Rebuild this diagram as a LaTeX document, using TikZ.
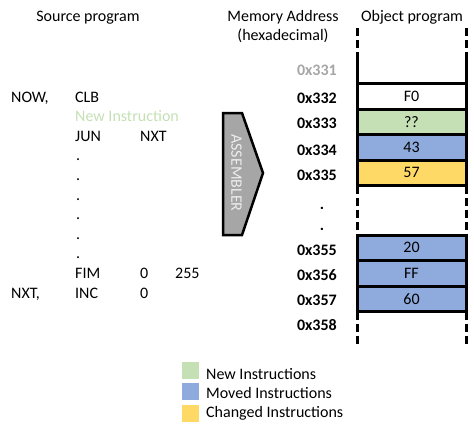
\documentclass[tikz,border=0pt]{standalone}
\usepackage{fontspec}
\setmainfont{Carlito}
\definecolor{newgreen}{HTML}{C5E0B4}
\definecolor{movedblue}{HTML}{8FAADC}
\definecolor{changedyellow}{HTML}{FFD966}
\definecolor{asmgray}{HTML}{A6A6A6}
\definecolor{addrgray}{HTML}{A6A6A6}
\definecolor{asmtext}{HTML}{EDEDED}
\begin{document}
\begin{tikzpicture}[x=1pt,y=-1pt,
  font=\fontsize{16}{19}\selectfont,
  txt/.style={inner sep=0pt, anchor=base west},
  ctxt/.style={inner sep=0pt, anchor=base},
  addr/.style={inner sep=0pt, anchor=base east, font=\fontsize{16}{19}\selectfont\bfseries},
  cell/.style={draw=black, line width=3pt, minimum width=109pt, minimum height=25.5pt, inner sep=0pt, outer sep=0pt, anchor=north west},
  rail/.style={line width=3pt},
  dashrail/.style={line width=3pt, dash pattern=on 8pt off 4pt},
  legsq/.style={minimum width=17pt, minimum height=17pt, inner sep=0pt, outer sep=0pt, anchor=north west}]
\useasboundingbox (0,0) rectangle (474,434);

% headers
\node[ctxt] (hsrc) at (88,21) {Source program};
\node[ctxt] (hmem) at (283,21) {Memory Address};
\node[ctxt] (hhex) at (283,40) {(hexadecimal)};
\node[ctxt] (hobj) at (412,21) {Object program};

% source program
\node[txt] (now) at (11,102) {NOW,};
\node[txt] (clb) at (75,102) {CLB};
\node[txt, text=newgreen] (newi) at (75,121.6) {New Instruction};
\node[txt] (jun) at (75,141.2) {JUN};
\node[txt] (junarg) at (140,141.2) {NXT};
\node[txt] (d1) at (76,160.8) {.};
\node[txt] (d2) at (76,180.4) {.};
\node[txt] (d3) at (76,200) {.};
\node[txt] (d4) at (76,219.6) {.};
\node[txt] (d5) at (76,239.2) {.};
\node[txt] (d6) at (76,258.8) {.};
\node[txt] (fim) at (75,278.4) {FIM};
\node[txt] (fima) at (140,278.4) {0};
\node[txt] (fimb) at (175,278.4) {255};
\node[txt] (nxt) at (11,298) {NXT,};
\node[txt] (inc) at (75,298) {INC};
\node[txt] (inca) at (140,298) {0};

% assembler arrow
\draw[line width=2.5pt, fill=asmgray, line join=miter] (223,113) -- (242,113) -- (263,173) -- (242,235) -- (223,235) -- cycle;
\node[rotate=-90, text=asmtext, inner sep=0pt] (asm) at (236.5,173) {ASSEMBLER};

% addresses
\node[addr, text=addrgray] (a331) at (337,75) {0x331};
\node[addr] (a332) at (337,103) {0x332};
\node[addr] (a333) at (337,128) {0x333};
\node[addr] (a334) at (337,155) {0x334};
\node[addr] (a335) at (337,180) {0x335};
\node[ctxt, font=\fontsize{16}{19}\selectfont\bfseries] (ad1) at (322,209) {.};
\node[ctxt, font=\fontsize{16}{19}\selectfont\bfseries] (ad2) at (322,230) {.};
\node[addr] (a355) at (337,255) {0x355};
\node[addr] (a356) at (337,280.5) {0x356};
\node[addr] (a357) at (337,305) {0x357};
\node[addr] (a358) at (337,330) {0x358};

% object program rails
\coordinate (tl0) at (357,28);
\coordinate (tl1) at (357,55);
\coordinate (tr0) at (466,28);
\coordinate (tr1) at (466,55);
\coordinate (bl) at (357,345);
\coordinate (br) at (466,345);

% cells
\node[cell, fill=white] (c1) at (357,83.5) {F0};
\node[cell, fill=newgreen] (c2) at (357,109) {??};
\node[cell, fill=movedblue] (c3) at (357,134.5) {43};
\node[cell, fill=changedyellow] (c4) at (357,160) {57};
\node[cell, fill=movedblue] (c5) at (357,235) {20};
\node[cell, fill=movedblue] (c6) at (357,260.5) {FF};
\node[cell, fill=movedblue] (c7) at (357,286) {60};

\draw[dashrail] (tl0) -- (tl1);
\draw[dashrail] (tr0) -- (tr1);
\draw[rail, line join=miter] (tl1) -- (c1.north west) -- (c1.north east) -- (tr1);
\draw[dashrail] (c4.south west) -- (c5.north west);
\draw[dashrail] (c4.south east) -- (c5.north east);
\draw[dashrail] (c7.south west) -- (bl);
\draw[dashrail] (c7.south east) -- (br);

% legend
\node[legsq, fill=newgreen] (lg1) at (182,362) {};
\node[legsq, fill=movedblue] (lg2) at (182,383) {};
\node[legsq, fill=changedyellow] (lg3) at (182,404.5) {};
\node[txt] (lt1) at (206,379) {New Instructions};
\node[txt] (lt2) at (206,398) {Moved Instructions};
\node[txt] (lt3) at (206,417) {Changed Instructions};
\end{tikzpicture}
\end{document}
